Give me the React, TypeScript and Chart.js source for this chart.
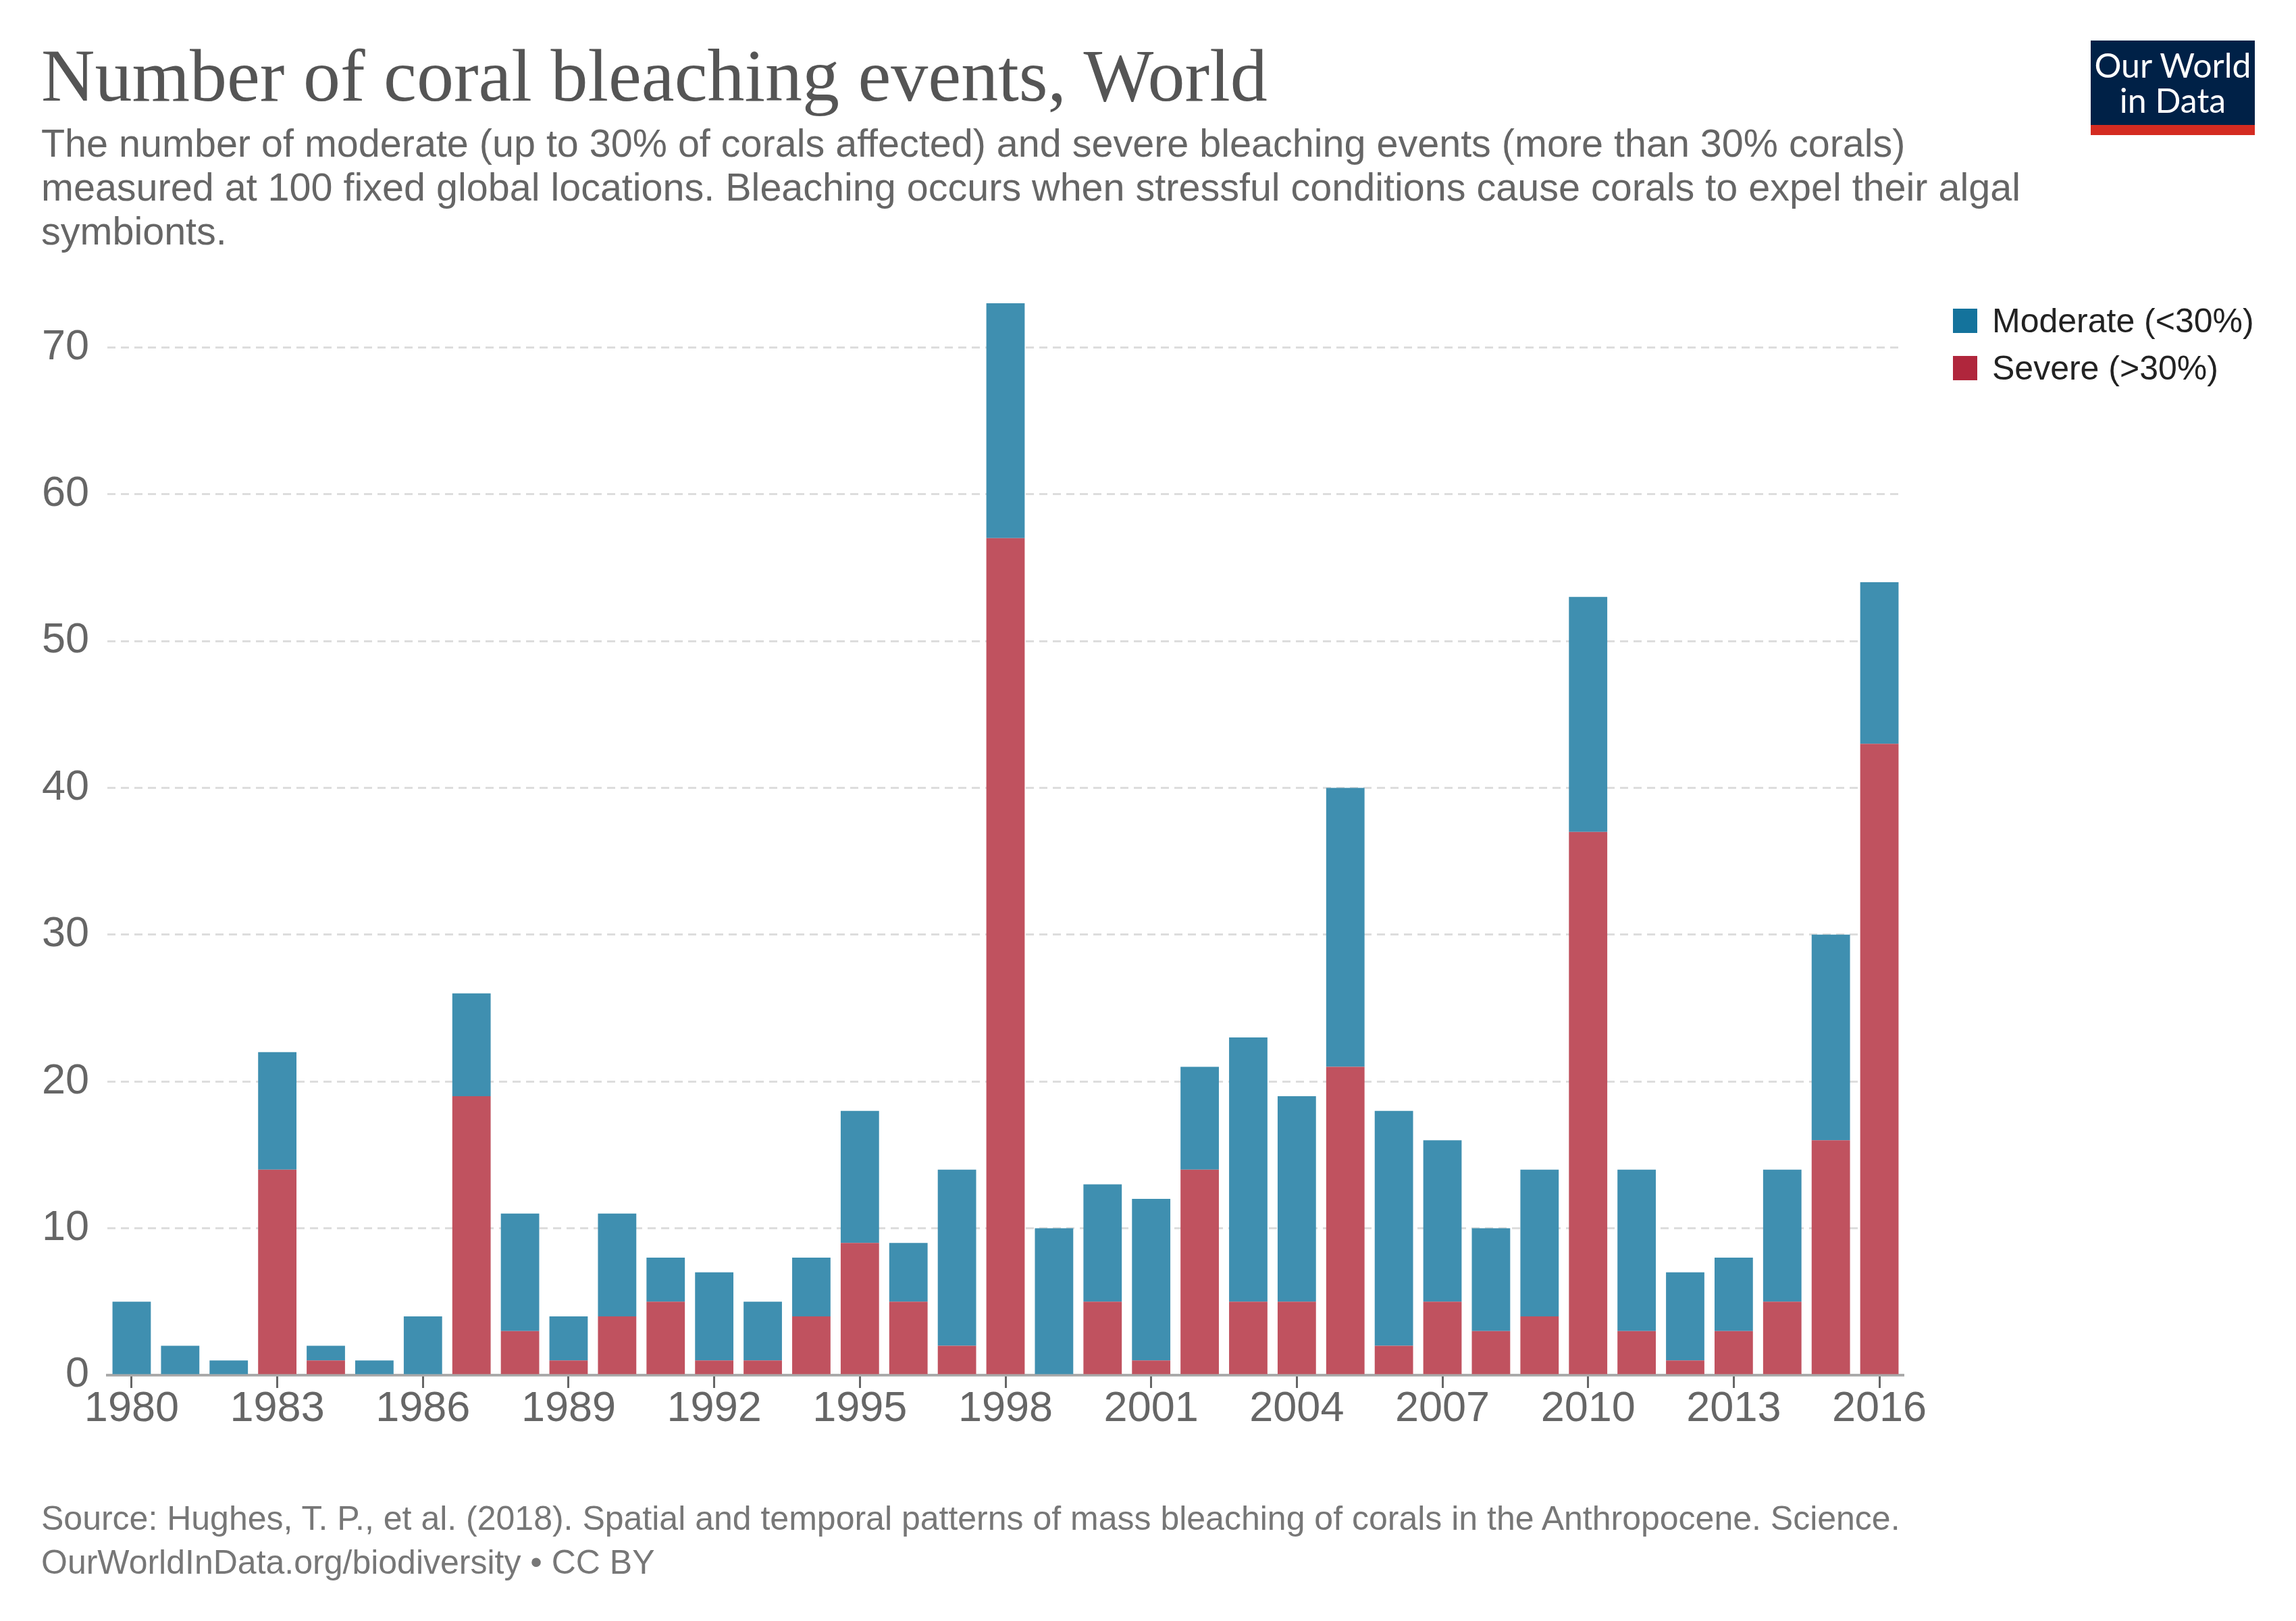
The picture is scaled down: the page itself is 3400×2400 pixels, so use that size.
import React, { useEffect, useRef } from "react";
import { Chart, registerables } from "chart.js";

Chart.register(...registerables);

const years = [
  "1980", "1981", "1982", "1983", "1984", "1985", "1986", "1987", "1988", "1989",
  "1990", "1991", "1992", "1993", "1994", "1995", "1996", "1997", "1998", "1999",
  "2000", "2001", "2002", "2003", "2004", "2005", "2006", "2007", "2008", "2009",
  "2010", "2011", "2012", "2013", "2014", "2015", "2016",
];

const severe = [
  0, 0, 0, 14, 1, 0, 0, 19, 3, 1,
  4, 5, 1, 1, 4, 9, 5, 2, 57, 0,
  5, 1, 14, 5, 5, 21, 2, 5, 3, 4,
  37, 3, 1, 3, 5, 16, 43,
];

const moderate = [
  5, 2, 1, 8, 1, 1, 4, 7, 8, 3,
  7, 3, 6, 4, 4, 9, 4, 12, 16, 10,
  8, 11, 7, 18, 14, 19, 16, 11, 7, 10,
  16, 11, 6, 5, 9, 14, 11,
];

const labeledYears = ["1980", "1983", "1986", "1989", "1992", "1995", "1998", "2001", "2004", "2007", "2010", "2013", "2016"];
const yTickValues = [0, 10, 20, 30, 40, 50, 60, 70];

const SANS = '"Liberation Sans", Arial, Helvetica, sans-serif';
const SERIF = '"Liberation Serif", "Times New Roman", serif';

const MOD_BAR = "#3f8fb0";
const SEV_BAR = "#c0525f";
const MOD_KEY = "#14739c";
const SEV_KEY = "#b0263c";

export default function App() {
  const canvasRef = useRef<HTMLCanvasElement | null>(null);

  useEffect(() => {
    const canvas = canvasRef.current;
    if (!canvas) return;
    const chart = new Chart(canvas, {
      type: "bar",
      data: {
        labels: years,
        datasets: [
          {
            label: "Severe (>30%)",
            data: severe,
            backgroundColor: SEV_BAR,
            borderWidth: 0,
            stack: "s",
          },
          {
            label: "Moderate (<30%)",
            data: moderate,
            backgroundColor: MOD_BAR,
            borderWidth: 0,
            stack: "s",
          },
        ],
      },
      options: {
        animation: false,
        responsive: false,
        devicePixelRatio: 1,
        layout: { padding: { left: 0, top: 449, right: 581, bottom: 0 } },
        plugins: {
          legend: { display: false },
          tooltip: { enabled: false },
          title: { display: false },
        },
        datasets: {
          bar: { categoryPercentage: 1, barPercentage: 0.79 },
        },
        scales: {
          x: {
            type: "category",
            stacked: true,
            afterFit: (scale: any) => {
              scale.height = 364;
            },
            grid: {
              display: true,
              drawOnChartArea: false,
              offset: false,
              drawTicks: true,
              tickLength: 19,
              tickWidth: 3,
              tickColor: (ctx: any) =>
                labeledYears.includes(years[ctx.index]) ? "#666666" : "rgba(0,0,0,0)",
            },
            border: { display: true, color: "#aaaaaa", width: 4 },
            ticks: {
              autoSkip: false,
              maxRotation: 0,
              padding: 0,
              color: "#666666",
              font: { family: SANS, size: 63, lineHeight: 1 },
              callback: (_v: any, i: number) =>
                labeledYears.includes(years[i]) ? years[i] : "",
            },
          },
          y: {
            type: "linear",
            stacked: true,
            min: 0,
            max: 73,
            bounds: "data",
            afterFit: (scale: any) => {
              scale.width = 159;
            },
            afterBuildTicks: (scale: any) => {
              scale.ticks = yTickValues.map((v) => ({ value: v }));
            },
            grid: {
              display: true,
              drawTicks: false,
              color: "#dddddd",
              lineWidth: 3,
            },
            border: { display: false, dash: [12, 8] },
            ticks: {
              stepSize: 10,
              includeBounds: false,
              padding: 27,
              color: "#666666",
              font: { family: SANS, size: 63 },
            },
          },
        },
      },
    } as any);
    return () => chart.destroy();
  }, []);

  const abs: React.CSSProperties = { position: "absolute", whiteSpace: "nowrap", margin: 0 };

  return (
    <div
      style={{
        position: "absolute",
        left: 0,
        top: 0,
        width: 3400,
        height: 2400,
        background: "#ffffff",
        overflow: "hidden",
      }}
    >
      <canvas
        ref={canvasRef}
        width={3400}
        height={2400}
        style={{ position: "absolute", left: 0, top: 0, width: 3400, height: 2400 }}
      />
      <div
        style={{
          ...abs,
          left: 61,
          top: 57,
          fontFamily: SERIF,
          fontSize: 110,
          lineHeight: "110px",
          color: "#555555",
        }}
      >
        Number of coral bleaching events, World
      </div>
      <div
        style={{
          ...abs,
          left: 61,
          top: 180,
          fontFamily: SANS,
          fontSize: 57.5,
          lineHeight: "65px",
          color: "#666666",
        }}
      >
        <div>The number of moderate (up to 30% of corals affected) and severe bleaching events (more than 30% corals)</div>
        <div>measured at 100 fixed global locations. Bleaching occurs when stressful conditions cause corals to expel their algal</div>
        <div>symbionts.</div>
      </div>

      <div style={{ position: "absolute", left: 3096, top: 60, width: 243, height: 140 }}>
        <div
          style={{
            position: "absolute",
            left: 0,
            top: 0,
            width: 243,
            height: 125,
            background: "#002147",
            color: "#ffffff",
            fontFamily: 'Lato, "Open Sans", sans-serif',
            fontSize: 50,
            lineHeight: "52px",
            textAlign: "center",
            paddingTop: 10,
            boxSizing: "border-box",
          }}
        >
          <div>Our World</div>
          <div>in Data</div>
        </div>
        <div
          style={{
            position: "absolute",
            left: 0,
            top: 125,
            width: 243,
            height: 15,
            background: "#d42b21",
          }}
        />
      </div>

      <div style={{ position: "absolute", left: 2892, top: 440 }}>
        {[
          { label: "Moderate (<30%)", color: MOD_KEY },
          { label: "Severe (>30%)", color: SEV_KEY },
        ].map((item) => (
          <div
            key={item.label}
            style={{ display: "flex", alignItems: "center", height: 70, whiteSpace: "nowrap" }}
          >
            <div style={{ width: 36, height: 36, background: item.color, marginRight: 22 }} />
            <div style={{ fontFamily: SANS, fontSize: 50, color: "#222222", lineHeight: "50px" }}>
              {item.label}
            </div>
          </div>
        ))}
      </div>

      <div
        style={{
          ...abs,
          left: 61,
          top: 2216,
          fontFamily: SANS,
          fontSize: 50,
          lineHeight: "65px",
          color: "#777777",
        }}
      >
        <div>Source: Hughes, T. P., et al. (2018). Spatial and temporal patterns of mass bleaching of corals in the Anthropocene. Science.</div>
        <div>OurWorldInData.org/biodiversity • CC BY</div>
      </div>
    </div>
  );
}
